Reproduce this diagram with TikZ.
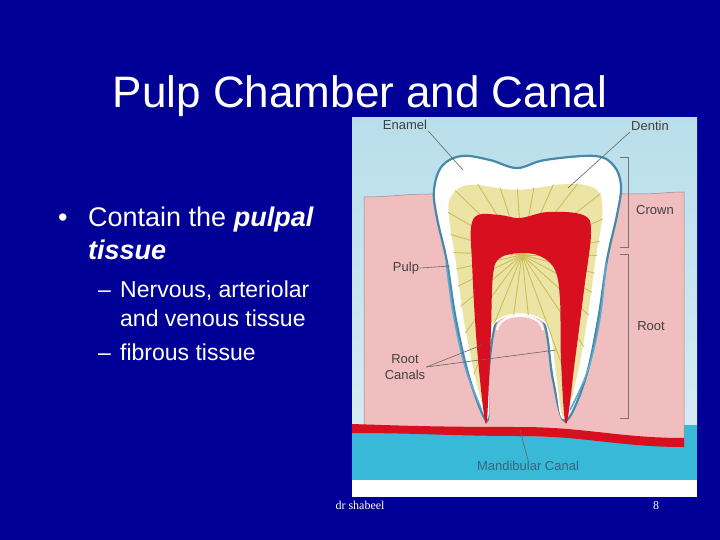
\documentclass[tikz,border=0pt]{standalone}
\usepackage{fontspec}
\setmainfont{Liberation Serif}
\setsansfont{Liberation Sans}
\begin{document}
\begin{tikzpicture}[x=1pt,y=-1pt,
  lbl/.style={font=\sffamily\fontsize{13}{14}\selectfont,text=black!75,inner sep=1pt},
  lead/.style={draw=black!60,line width=0.6pt},
  slide/.style={font=\sffamily\fontsize{27}{29}\selectfont,text=white,anchor=base west,inner sep=0pt},
  sub/.style={font=\sffamily\fontsize{23}{29}\selectfont,text=white,anchor=base west,inner sep=0pt,align=left}]
\definecolor{bg}{RGB}{0,0,150}
\definecolor{gum}{RGB}{240,190,190}
\definecolor{pulpred}{RGB}{215,15,30}
\definecolor{dentin}{RGB}{235,228,165}
\definecolor{tub}{RGB}{205,190,90}
\definecolor{cem}{RGB}{90,170,210}
\definecolor{sky}{RGB}{185,222,235}
\definecolor{sea}{RGB}{55,185,215}
\fill[bg] (0,0) rectangle (720,540);
\useasboundingbox (0,0) rectangle (720,540);
\node[font=\sffamily\fontsize{44}{48}\selectfont,text=white,anchor=base] (title) at (360,108) {Pulp Chamber and Canal};
% image
\fill[top color=sky,bottom color=sky!60!white] (352,118) rectangle (697,425);
\fill[sea] (352,425) rectangle (697,480);
\fill[white] (352,480) rectangle (697,497);
\fill[gum,draw=gum!70!black,line width=0.5pt] (364,432) -- (364,197) to[out=0,in=180] (430,194) -- (640,194) to[out=0,in=180] (684,192) -- (684,440) -- cycle;
% tooth outer
\fill[white,draw=cem!80!black,line width=2.2pt] plot[smooth cycle,tension=0.6] coordinates{(487,421) (470,380) (456,320) (447,262) (437,218) (434,190) (442,166) (462,156) (490,160) (517,168) (545,160) (595,156) (614,166) (621,186) (617,215) (607,260) (598,320) (585,380) (565,421) (553,380) (547,335) (540,316) (520,309) (500,316) (493,335) (488,380)};
\draw[cem,line width=1.5pt] plot[smooth,tension=0.6] coordinates{(482,410) (466,370) (454,318) (446,262)};
\draw[cem,line width=1.5pt] plot[smooth,tension=0.6] coordinates{(570,410) (588,370) (600,318) (606,262)};
% dentin
\begin{scope}
\path[fill=dentin,draw=white,line width=1.5pt] plot[smooth cycle,tension=0.6] coordinates{(487,418) (475,380) (463,320) (455,262) (448,215) (451,195) (470,184) (517,189) (570,183) (598,190) (603,215) (596,262) (588,320) (577,380) (563,418) (556,380) (550,335) (542,320) (520,314) (498,320) (490,335) (488,380)};
\clip plot[smooth cycle,tension=0.6] coordinates{(487,418) (475,380) (463,320) (455,262) (448,215) (451,195) (470,184) (517,189) (570,183) (598,190) (603,215) (596,262) (588,320) (577,380) (563,418) (556,380) (550,335) (542,320) (520,314) (498,320) (490,335) (488,380)};
\foreach \a in {0,14,...,359} \draw[tub,line width=0.9pt] (522,255) -- ++(\a:160);
\end{scope}
\draw[white,line width=2pt] (497,330) to[out=80,in=180] (520,316) to[out=0,in=100] (543,330);
% pulp
\fill[pulpred] plot[smooth cycle,tension=0.6] coordinates{(486,424) (480,380) (475,320) (472,262) (471,228) (478,215) (500,215) (520,218) (548,212) (583,215) (591,232) (584,290) (575,360) (566,424) (561,360) (560,300) (555,270) (540,256) (520,253) (500,258) (493,275) (491,330) (489,380)};
% mandibular canal
\fill[pulpred] (352,424) to[out=-2,in=180] (520,427) to[out=0,in=180] (684,438) -- (684,447) to[out=180,in=0] (520,436) to[out=180,in=0] (352,433) -- cycle;
% labels
\node[lbl] (enamel) at (405,125) {Enamel};
\node[lbl] (dentinl) at (650,126) {Dentin};
\node[lbl] (crown) at (655,210) {Crown};
\node[lbl] (pulp) at (406,268) {Pulp};
\node[lbl] (root) at (651,326) {Root};
\node[lbl,align=center,font=\sffamily\fontsize{13}{16}\selectfont] (canals) at (405,367) {Root\\Canals};
\node[lbl,text=cem!60!black] (mand) at (528,466) {Mandibular Canal};
\coordinate (e1) at (463,170);
\coordinate (d1) at (568,188);
\coordinate (p1) at (450,266);
\coordinate (c1) at (482,345);
\coordinate (c2) at (556,350);
\coordinate (m1) at (520,430);
\draw[lead] (enamel.south east) -- (e1);
\draw[lead] (dentinl.south west) -- (d1);
\draw[lead] (pulp.east) -- (p1);
\draw[lead] (canals.east) -- (c1);
\draw[lead] (canals.east) -- (c2);
\draw[lead] (mand.north) -- (m1);
\draw[black!55,line width=0.6pt] (620,157) -- (628,157) -- (628,247) -- (620,247);
\draw[black!55,line width=0.6pt] (620,254) -- (628,254) -- (628,418) -- (620,418);
% bullets
\node[slide] (b1) at (58,226) {•};
\node[slide] (t1) at (88,226) {Contain the \textbf{\textit{pulpal}}};
\node[slide] (t2) at (88,259) {\textbf{\textit{tissue}}};
\node[sub] (d1n) at (98,297) {–};
\node[sub] (s1) at (120,297) {Nervous, arteriolar};
\node[sub] (s2) at (120,326) {and venous tissue};
\node[sub] (d2n) at (98,360) {–};
\node[sub] (s3) at (120,360) {fibrous tissue};
\node[font=\rmfamily\fontsize{12}{14}\selectfont,text=white,anchor=base] (auth) at (360,509) {dr shabeel};
\node[font=\rmfamily\fontsize{12}{14}\selectfont,text=white,anchor=base] (pg) at (656,509) {8};
\end{tikzpicture}
\end{document}
